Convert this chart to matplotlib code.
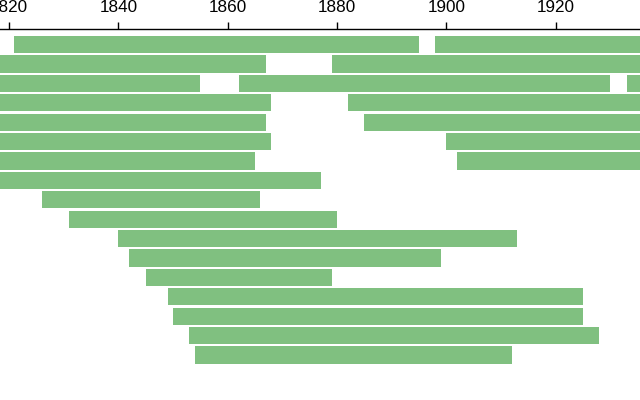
import matplotlib
matplotlib.use("Agg")
import matplotlib.pyplot as plt

# lifespans packed into lanes (row 0 at top); values past the edges are guesses
lane = [0, 0, 1, 1, 2, 2, 2, 3, 3, 4, 4, 5, 5, 6, 6, 7,
        8, 9, 10, 11, 12, 13, 14, 15, 16]
born = [1821, 1898, 1805, 1879, 1800, 1862, 1933, 1810, 1882, 1808, 1885, 1812, 1900, 1806, 1902, 1815,
        1826, 1831, 1840, 1842, 1845, 1849, 1850, 1853, 1854]
died = [1895, 1950, 1867, 1955, 1855, 1930, 1990, 1868, 1945, 1867, 1950, 1868, 1960, 1865, 1970, 1877,
        1866, 1880, 1913, 1899, 1879, 1925, 1925, 1928, 1912]
ticks = [1820, 1840, 1860, 1880, 1900, 1920]

plt.rcParams['font.family'] = ['Liberation Sans', 'DejaVu Sans']

fig = plt.figure(figsize=(6.4, 4), dpi=100)
ax = fig.add_axes([0, 0, 1, 371 / 400])

widths = [d - b for b, d in zip(born, died)]
ax.barh(lane, widths, left=born, height=0.887, color='#80c080', linewidth=0)

ax.set_xlim(1818.35, 1935.44)
ax.set_ylim(18.32, -0.804)

for s in ['left', 'right', 'bottom']:
    ax.spines[s].set_visible(False)
ax.spines['top'].set_linewidth(1.0)
ax.spines['top'].set_color('black')

ax.set_yticks([])
ax.set_xticks(ticks)
ax.set_xticklabels([str(t) for t in ticks])
ax.xaxis.tick_top()
ax.tick_params(axis='x', direction='out', length=5.4, width=1.0,
               pad=4.5, labelsize=12.3, colors='black')

fig.savefig('out.png', dpi=100)
